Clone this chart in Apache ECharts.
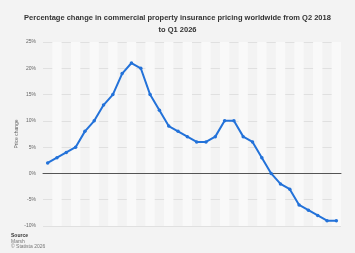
<!DOCTYPE html>
<html>
<head>
<meta charset="utf-8">
<script src="https://cdn.jsdelivr.net/npm/echarts@6/dist/echarts.min.js"></script>
<style>
  html, body { margin: 0; padding: 0; background: #f3f3f3; }
  #chart { width: 355px; height: 253px; }
</style>
</head>
<body>
<div id="chart"></div>
<script>
  // quarters Q2 2018 .. Q1 2026
  var quarters = ['Q2 2018', 'Q3 2018', 'Q4 2018',
    'Q1 2019', 'Q2 2019', 'Q3 2019', 'Q4 2019',
    'Q1 2020', 'Q2 2020', 'Q3 2020', 'Q4 2020',
    'Q1 2021', 'Q2 2021', 'Q3 2021', 'Q4 2021',
    'Q1 2022', 'Q2 2022', 'Q3 2022', 'Q4 2022',
    'Q1 2023', 'Q2 2023', 'Q3 2023', 'Q4 2023',
    'Q1 2024', 'Q2 2024', 'Q3 2024', 'Q4 2024',
    'Q1 2025', 'Q2 2025', 'Q3 2025', 'Q4 2025',
    'Q1 2026']
  // price change in %
  var priceChange = [2, 3, 4, 5, 8, 10, 13, 15, 19, 21, 20, 15, 12, 9, 8, 7,
    6, 6, 7, 10, 10, 7, 6, 3, 0, -2, -3, -6, -7, -8, -9, -9]
  var yTicks = [-10, -5, 0, 5, 10, 15, 20, 25]

  var myChart = echarts.init(document.getElementById('chart'))
  var option = {
    backgroundColor: '#f3f3f3',
    animation: false,
    title: {
      text: 'Percentage change in commercial property insurance pricing worldwide from Q2 2018\nto Q1 2026',
      left: 'center',
      top: 7,
      textStyle: {
        fontFamily: 'Liberation Sans',
        fontSize: 7.5,
        fontWeight: 'bold',
        color: '#333',
        lineHeight: 12
      }
    },
    graphic: [{
      type: 'text',
      left: 11,
      top: 233,
      style: {
        text: '{b|Source}\nMarsh\n© Statista 2026',
        fontFamily: 'Liberation Sans',
        fontSize: 5,
        lineHeight: 5.5,
        fill: '#777',
        rich: {
          b: { fontWeight: 'bold', fontSize: 5, fill: '#333' }
        }
      }
    }],
    grid: {
      left: 43,
      right: 14,
      top: 42,
      bottom: 27
    },
    xAxis: {
      type: 'category',
      data: quarters,
      boundaryGap: true,
      axisLine: { onZero: true, lineStyle: { color: '#555', width: 1 } },
      axisTick: { show: false, interval: 0 },
      axisLabel: { show: false, interval: 0 },
      splitArea: {
        show: true,
        interval: 0,
        areaStyle: { color: ['rgba(0,0,0,0)', '#f9f9f9'] }
      }
    },
    yAxis: {
      type: 'value',
      min: yTicks[0],
      max: yTicks[yTicks.length - 1],
      interval: 5,
      name: 'Price change',
      nameLocation: 'middle',
      nameGap: 24,
      nameMoveOverlap: false,
      nameTextStyle: { fontFamily: 'Liberation Sans', fontSize: 5, color: '#666' },
      axisLine: { show: false },
      axisTick: { show: false },
      axisLabel: {
        fontFamily: 'Liberation Sans',
        fontSize: 5,
        color: '#666',
        margin: 7,
        formatter: '{value}%'
      },
      splitLine: { lineStyle: { color: '#e0e0e0', width: 1 } }
    },
    series: [{
      name: 'Price change',
      type: 'line',
      data: priceChange,
      symbol: 'circle',
      symbolSize: 3.5,
      itemStyle: { color: '#2372d9' },
      lineStyle: { color: '#2372d9', width: 2 }
    }]
  }
  myChart.setOption(option)
  window.addEventListener('resize', function() {
    myChart.resize()
  })
</script>
</body>
</html>
